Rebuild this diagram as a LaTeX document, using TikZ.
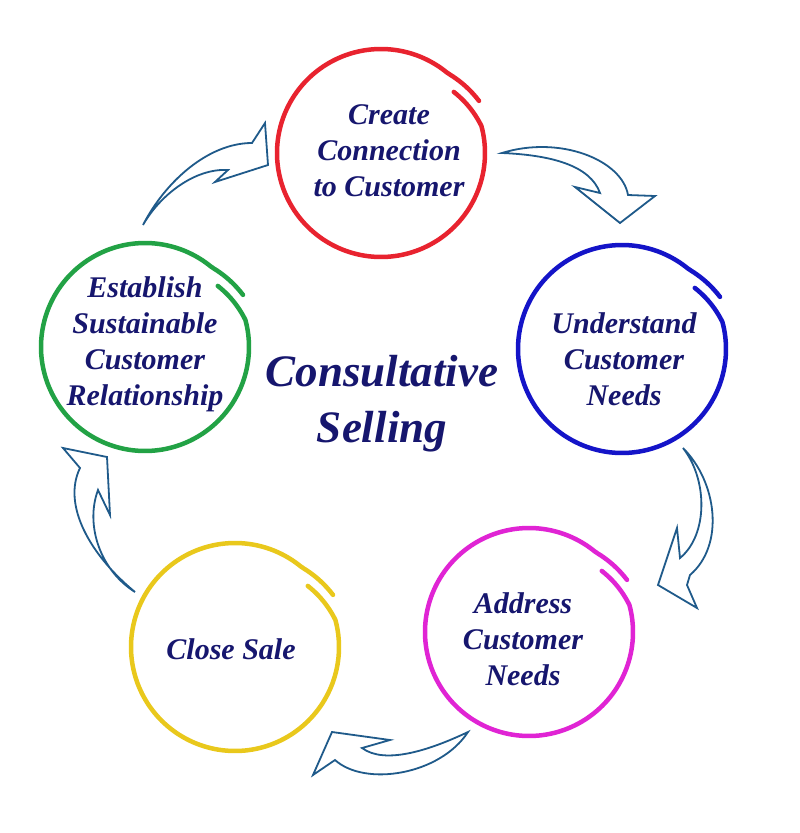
\documentclass[tikz,border=0pt]{standalone}
\usepackage{fontspec}
\setmainfont{Liberation Serif}
\definecolor{cred}{HTML}{E8232F}
\definecolor{cblue}{HTML}{1414C8}
\definecolor{cmag}{HTML}{E024D4}
\definecolor{cyel}{HTML}{E9C81C}
\definecolor{cgreen}{HTML}{22A245}
\definecolor{txt}{HTML}{16166E}
\definecolor{arr}{HTML}{1F5A8A}
\tikzset{
  ring/.style={circle, minimum size=208pt, inner sep=0pt},
  lbl/.style={text=txt, font=\fontsize{30}{36}\selectfont\bfseries\itshape, align=center, inner sep=0pt},
  titletext/.style={text=txt, font=\fontsize{45}{56}\selectfont\bfseries\itshape, align=center, inner sep=0pt},
  blockarrow/.style={draw=arr, line width=1.8pt, fill=white, line join=miter},
  brush/.style={line width=4.5pt, line cap=round}
}
\newcommand\brushring[3]{%
  \draw[brush, #3] plot[domain=0:372, samples=180, smooth]
   ({#1 + (104 - 9*max(0,1-\x/25) + 7*max(0,(\x-350)/22))*cos(40-\x)},
    {#2 - (104 - 9*max(0,1-\x/25) + 7*max(0,(\x-350)/22))*sin(40-\x)});}
\begin{document}
\begin{tikzpicture}[x=1pt, y=-1pt]
\fill[white] (0,0) rectangle (800,833);
\useasboundingbox (0,0) rectangle (800,833);

% circles
\node[ring] (c1) at (381,153) {};
\node[ring] (c2) at (622,349) {};
\node[ring] (c3) at (529,632) {};
\node[ring] (c4) at (235,647) {};
\node[ring] (c5) at (145,347) {};
\brushring{381}{153}{cred}
\brushring{622}{349}{cblue}
\brushring{529}{632}{cmag}
\brushring{235}{647}{cyel}
\brushring{145}{347}{cgreen}

% labels
\node[lbl] (t1) at (389,151) {Create\\Connection\\to Customer};
\node[lbl] (t2) at (624,359) {Understand\\Customer\\Needs};
\node[lbl] (t3) at (523,639) {Address\\Customer\\Needs};
\node[lbl] (t4) at (231,649) {Close Sale};
\node[lbl] (t5) at (145,344) {Establish\\Sustainable\\Customer\\Relationship};
\node[titletext] (title) at (382,404) {Consultative\\Selling};

% arrow green -> red
\draw[blockarrow] (143,225) .. controls (165,182) and (208,143) .. (252,143)
  -- (265,123) -- (268,165) -- (215,182) -- (228,170)
  .. controls (195,168) and (160,195) .. (143,225) -- cycle;
% arrow red -> blue
\draw[blockarrow] (502,153) .. controls (560,135) and (622,160) .. (628,195)
  -- (655,196) -- (620,223) -- (575,187) -- (600,193)
  .. controls (590,165) and (550,155) .. (502,153) -- cycle;
% arrow blue -> magenta
\draw[blockarrow] (683,448) .. controls (717,482) and (725,545) .. (690,575)
  -- (687,585) -- (697,608) -- (658,585) -- (677,528) -- (680,558)
  .. controls (708,535) and (708,480) .. (683,448) -- cycle;
% arrow magenta -> yellow
\draw[blockarrow] (468,732) .. controls (430,750) and (385,765) .. (362,748)
  -- (390,740) -- (332,732) -- (313,775) -- (335,760)
  .. controls (365,787) and (440,775) .. (468,732) -- cycle;
% arrow yellow -> green
\draw[blockarrow] (135,592) .. controls (90,555) and (62,505) .. (80,468)
  -- (63,448) -- (107,457) -- (110,515) -- (98,490)
  .. controls (85,525) and (100,570) .. (135,592) -- cycle;
\end{tikzpicture}
\end{document}
